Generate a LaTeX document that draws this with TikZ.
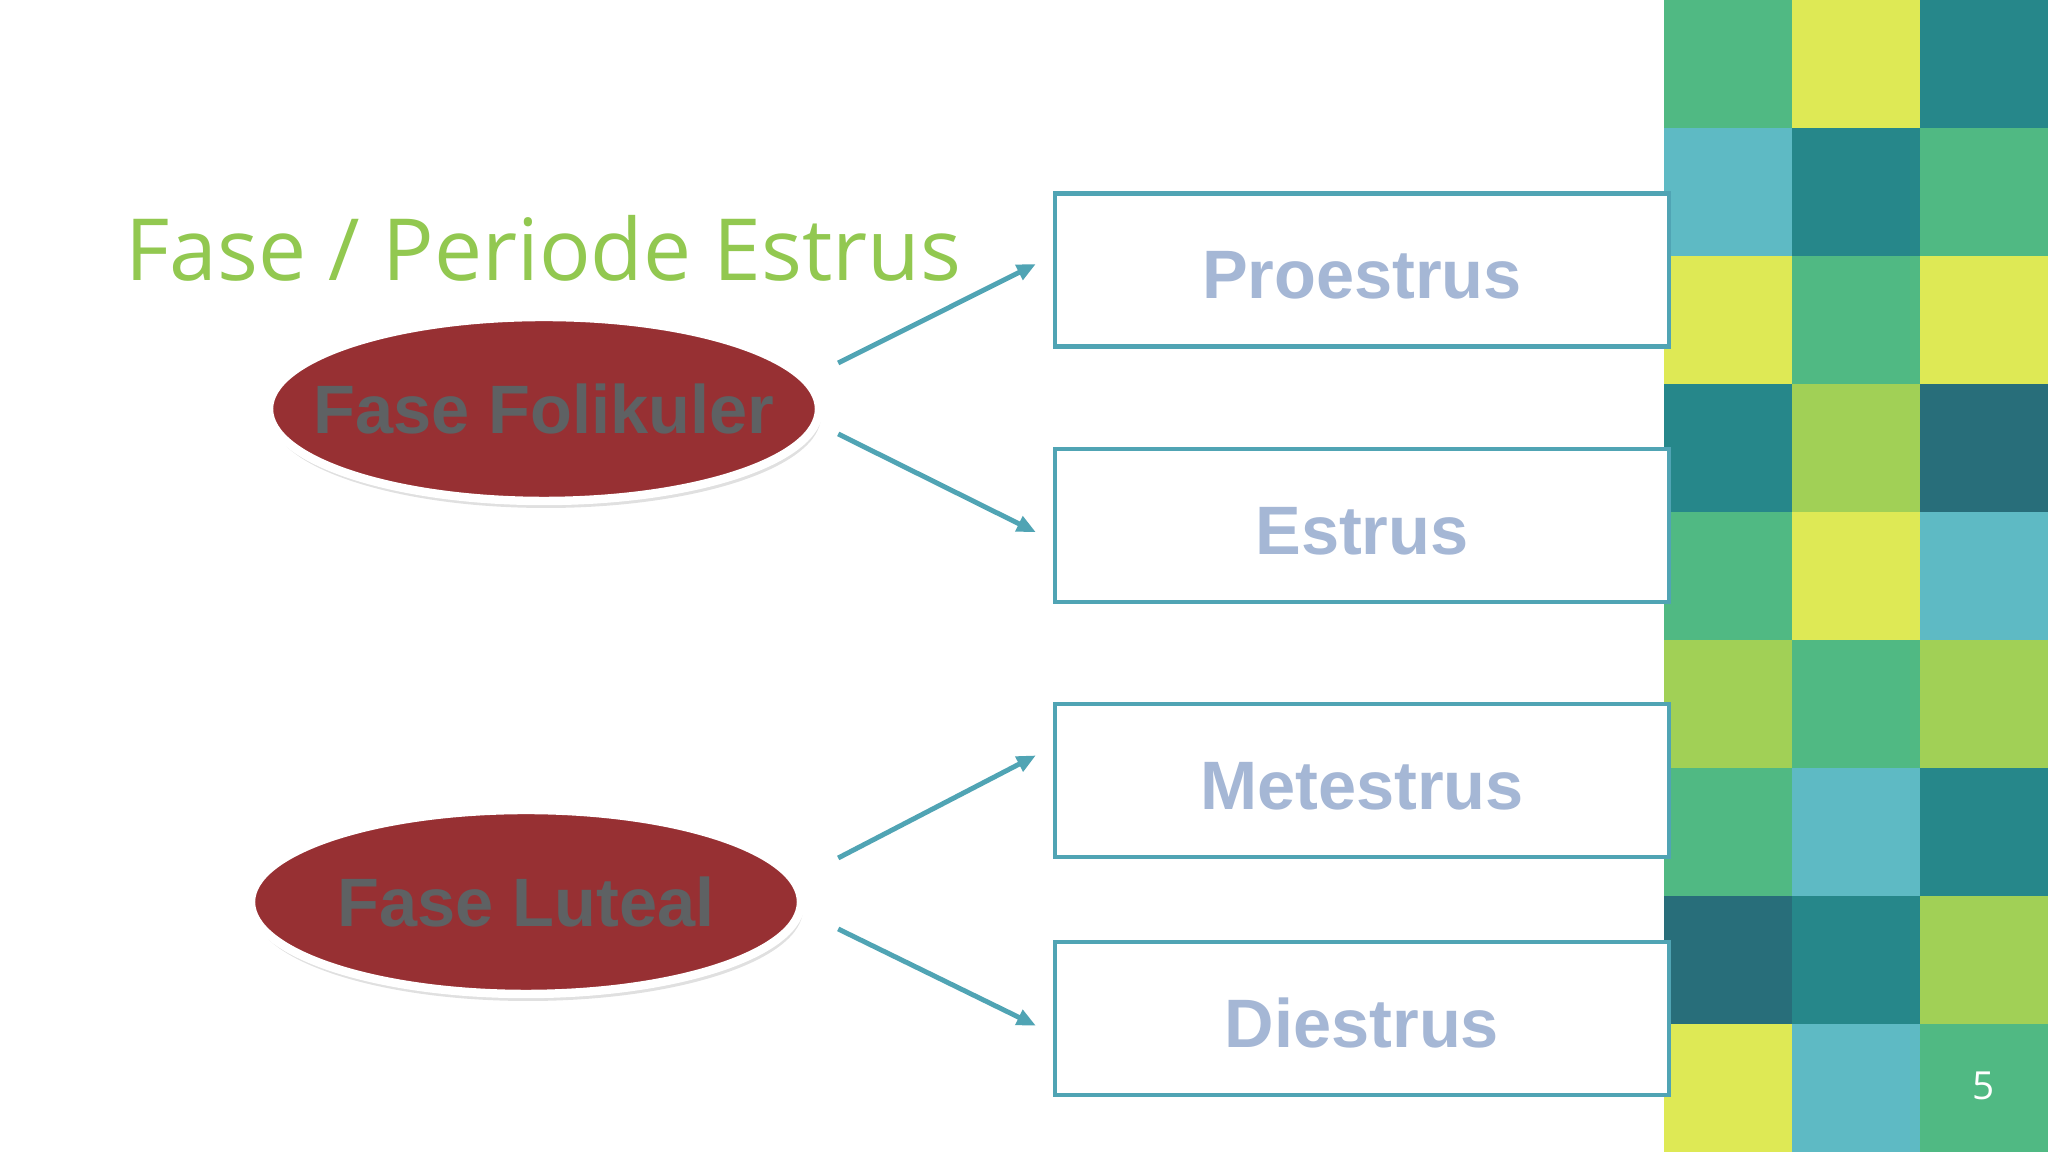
\documentclass[tikz,border=0pt]{standalone}
\usepackage{fontspec}
\setmainfont{Liberation Sans}
\newfontfamily\titlefont{Open Sans}
\usetikzlibrary{arrows.meta,positioning,shapes.geometric,shadows}

\definecolor{tilegreen}{RGB}{80,185,131}
\definecolor{tileyellow}{RGB}{222,233,85}
\definecolor{tileteal}{RGB}{38,135,138}
\definecolor{tilecyan}{RGB}{94,186,196}
\definecolor{tilelime}{RGB}{161,208,86}
\definecolor{tiledark}{RGB}{40,110,122}
\definecolor{phasered}{RGB}{151,48,51}
\definecolor{phasetext}{RGB}{94,97,99}
\definecolor{stageline}{RGB}{80,164,180}
\definecolor{stagetext}{RGB}{165,183,213}
\definecolor{titlegreen}{RGB}{146,200,80}

\begin{document}
\begin{tikzpicture}[
  every node/.style={font=\fontsize{19.5}{22}\selectfont\bfseries},
  phase/.style={ellipse, fill=phasered, draw=white, line width=2.4pt,
    minimum width=5.50cm, minimum height=1.84cm, inner sep=-0.6cm, text=phasetext,
    drop shadow={shadow xshift=0.02cm, shadow yshift=-0.07cm, fill=black, opacity=0.12}},
  stage/.style={draw=stageline, line width=1.2pt, fill=white, minimum width=6.14cm,
    minimum height=1.53cm, inner sep=0pt, text=stagetext, text height=0.58cm, text depth=0cm},
  arr/.style={-{Triangle[length=0.19cm,width=0.16cm]}, stageline, line width=1.4pt},
]
\useasboundingbox (0,0) rectangle (20.48,11.52);
\fill[white] (0,0) rectangle (20.48,11.52);

% tiles on the right, row by row
\foreach \c [count=\i from 0] in {tilegreen,tileyellow,tileteal,
    tilecyan,tileteal,tilegreen, tileyellow,tilegreen,tileyellow,
    tileteal,tilelime,tiledark, tilegreen,tileyellow,tilecyan,
    tilelime,tilegreen,tilelime, tilegreen,tilecyan,tileteal,
    tiledark,tileteal,tilelime, tileyellow,tilecyan,tilegreen} {
  \pgfmathtruncatemacro\col{mod(\i,3)}
  \pgfmathtruncatemacro\row{div(\i,3)}
  \fill[\c] (16.64+1.28*\col,11.52-1.28*\row) rectangle ++(1.28,-1.28);
}

\node[anchor=base west, inner sep=0pt, text=titlegreen,
  font=\titlefont\fontsize{24.4}{28}\selectfont] (title) at (1.25,8.71)
  {Fase / Periode Estrus};

\node[phase] (FOL) at (5.44,7.43) {Fase Folikuler};
\node[phase] (LUT) at (5.26,2.50) {Fase Luteal};

\node[stage] (PRO) at (13.62,8.82) {Proestrus};
\node[stage, below=0.98cm of PRO] (EST) {Estrus};
\node[stage, below=0.98cm of EST] (MET) {Metestrus};
\node[stage, below=0.81cm of MET] (DIE) {Diestrus};

\node[inner sep=0pt, text=white, font=\titlefont\fontsize{11}{13}\selectfont]
  (page) at (19.84,0.66) {5};

\draw[arr] ([shift={(0.15,0.46)}]FOL.east) -- ([shift={(-0.17,0.06)}]PRO.west);
\draw[arr] ([shift={(0.15,-0.25)}]FOL.east) -- ([shift={(-0.17,-0.07)}]EST.west);
\draw[arr] ([shift={(0.33,0.44)}]LUT.east) -- ([shift={(-0.17,0.25)}]MET.west);
\draw[arr] ([shift={(0.33,-0.27)}]LUT.east) -- ([shift={(-0.17,-0.07)}]DIE.west);

\end{tikzpicture}
\end{document}
